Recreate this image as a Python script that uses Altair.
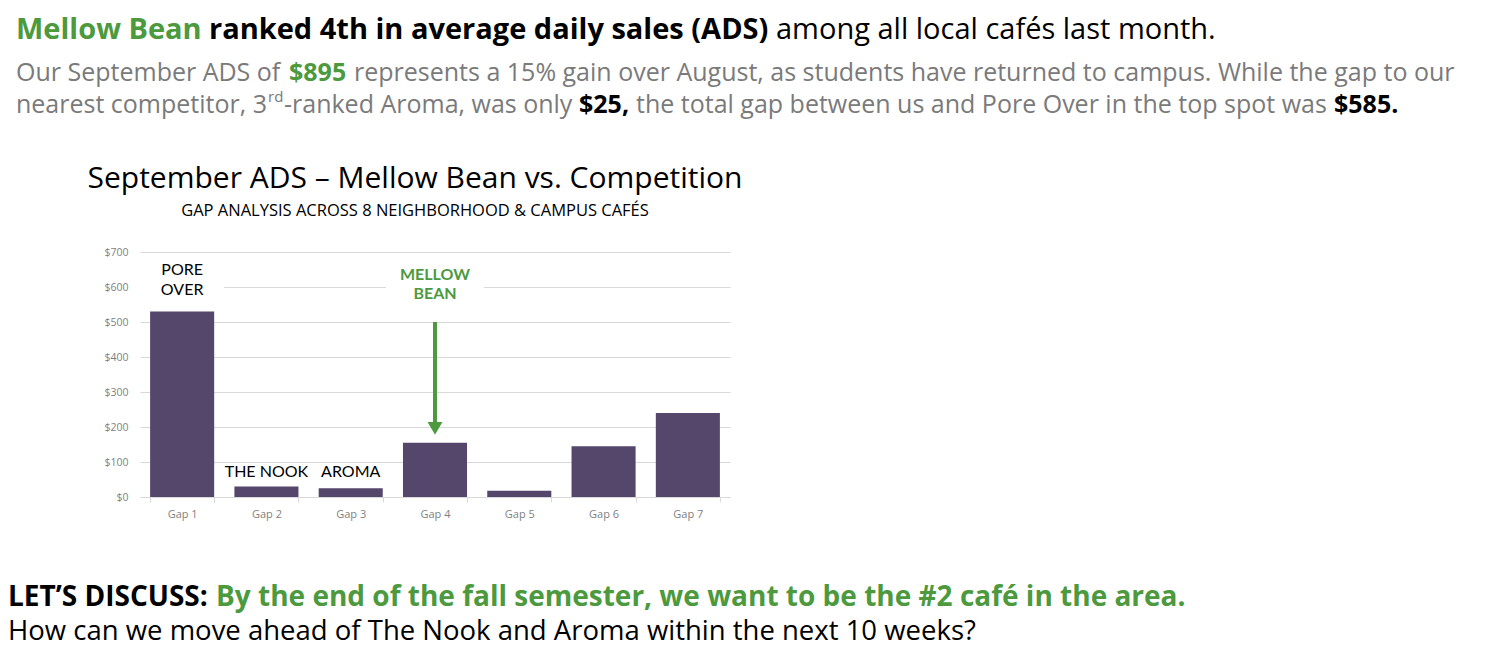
import altair as alt
import pandas as pd

# ---------------- data ----------------
gaps = ["Gap 1", "Gap 2", "Gap 3", "Gap 4", "Gap 5", "Gap 6", "Gap 7"]
ads_values = [530, 30, 25, 155, 18, 145, 240]
y_ticks = [0, 100, 200, 300, 400, 500, 600, 700]
label_gaps = ["Gap 1", "Gap 2", "Gap 3"]
label_texts = ["PORE\nOVER", "THE NOOK", "AROMA"]
highlight_gap = ["Gap 4"]
highlight_text = ["MELLOW\nBEAN"]

GREEN = "#4c9a3d"
PURPLE = "#55466c"
GRAY_TXT = "#7a7a7a"
AXIS_GRAY = "#7f7f7f"
GRID = "#d9d9d9"

df = pd.DataFrame({"gap": gaps, "ads": ads_values})
lab_df = pd.DataFrame({"gap": label_gaps, "label": label_texts})
hl_df = pd.DataFrame({"gap": highlight_gap, "label": highlight_text})
one = pd.DataFrame({"k": [0]})

x_scale = alt.Scale(domain=gaps, paddingInner=0.24, paddingOuter=0.12)
y_scale = alt.Scale(domain=[0, 700], nice=False)

x_axis = alt.Axis(title=None, labelAngle=0, labelColor=AXIS_GRAY, labelFont="Open Sans",
                  labelFontSize=11, domainColor=GRID, tickColor=GRID, tickSize=5,
                  tickBand="extent", labelPadding=6, grid=False, labelAlign="center")
y_axis = alt.Axis(title=None, values=y_ticks, format="$,.0f", labelColor=AXIS_GRAY,
                  labelFont="Open Sans", labelFontSize=10.5, domain=False, ticks=False,
                  grid=True, gridColor=GRID, gridWidth=1.2, labelPadding=12,
                  labelOverlap=False)


def X():
    return alt.X("gap:N", sort=gaps, scale=x_scale, axis=x_axis)


def Yd(v):
    return alt.Y(datum=v, scale=y_scale, axis=y_axis)


bars = alt.Chart(df).mark_bar(color=PURPLE).encode(
    x=X(), y=alt.Y("ads:Q", scale=y_scale, axis=y_axis))

# white backings that interrupt the $600 grid line behind the labels
back1 = alt.Chart(lab_df.iloc[[0]]).mark_bar(color="white", size=84).encode(
    x=X(), y=Yd(565), y2=alt.Y2(datum=645))
back4 = alt.Chart(hl_df).mark_bar(color="white", size=98).encode(
    x=X(), y=Yd(565), y2=alt.Y2(datum=645))

pore = alt.Chart(lab_df.iloc[[0]]).mark_text(
    font="Lato", fontSize=16, lineBreak="\n", baseline="top", lineHeight=20, color="black"
).encode(x=X(), y=alt.value(10), text="label:N")
small_labels = alt.Chart(lab_df.iloc[1:]).mark_text(
    font="Lato", fontSize=16, baseline="alphabetic", color="black"
).encode(x=X(), y=alt.value(225), text="label:N")
hl_label = alt.Chart(hl_df).mark_text(
    font="Lato", fontSize=16, fontWeight="bold", lineBreak="\n", baseline="top",
    lineHeight=19, color=GREEN
).encode(x=X(), y=alt.value(15), text="label:N")

arrow_line = alt.Chart(hl_df).mark_rule(color=GREEN, strokeWidth=4).encode(
    x=X(), y=Yd(500), y2=alt.Y2(datum=212))
arrow_head = alt.Chart(hl_df).mark_point(
    shape="triangle-down", filled=True, size=220, color=GREEN, opacity=1
).encode(x=X(), y=Yd(196))


def txt(s, x, y, size, color="black", weight="normal", font="Open Sans", align="left"):
    return alt.Chart(one).mark_text(
        text=s, align=align, baseline="alphabetic", font=font, fontSize=size,
        fontWeight=weight, color=color
    ).encode(x=alt.value(x), y=alt.value(y))


HEAD = "Open Sans"
texts = [
    # headline
    txt("Mellow Bean", -124, -213, 29, GREEN, "bold", HEAD),
    txt("ranked 4th in average daily sales (ADS)", 69, -213, 29, "black", "bold", HEAD),
    txt("among all local cafés last month.", 636, -213, 29, "black", "normal", HEAD),
    # sub-headline
    txt("Our September ADS of", -124, -171, 25, GRAY_TXT, "normal", HEAD),
    txt("$895", 149, -171, 25, GREEN, "bold", HEAD),
    txt("represents a 15% gain over August, as students have returned to campus. While the gap to our",
        214, -171, 25, GRAY_TXT, "normal", HEAD),
    txt("nearest competitor, 3", -124, -139, 25, GRAY_TXT, "normal", HEAD),
    txt("rd", 128, -150, 15, GRAY_TXT, "normal", HEAD),
    txt("-ranked Aroma, was only", 144, -139, 25, GRAY_TXT, "normal", HEAD),
    txt("$25,", 439, -139, 25, "black", "bold", HEAD),
    txt("the total gap between us and Pore Over in the top spot was", 496, -139, 25, GRAY_TXT, "normal", HEAD),
    txt("$585.", 1194, -139, 25, "black", "bold", HEAD),
    # chart titles
    txt("September ADS \u2013 Mellow Bean vs. Competition", 275, -64, 30, "black", "normal", "Open Sans", "center"),
    txt("GAP ANALYSIS ACROSS 8 NEIGHBORHOOD & CAMPUS CAF\u00c9S", 275, -36, 16.5, "black", "normal", "Open Sans", "center"),
    # bottom
    txt("LET\u2019S DISCUSS:", -132, 354, 28, "black", "bold", HEAD),
    txt("By the end of the fall semester, we want to be the #2 caf\u00e9 in the area.", 76, 354, 28, GREEN, "bold", HEAD),
    txt("How can we move ahead of The Nook and Aroma within the next 10 weeks?", -132, 388, 27.5, "black", "normal", HEAD),
]

chart = alt.layer(
    bars, back1, back4, pore, small_labels, hl_label, arrow_line, arrow_head, *texts
).properties(
    width=590, height=245,
    padding={"left": 132, "top": 244, "right": 762, "bottom": 167},
    autosize=alt.AutoSizeParams(type="none"),
    background="white",
).configure_view(stroke=None)

chart.save("out.html", embed_options={"renderer": "svg", "actions": False})
